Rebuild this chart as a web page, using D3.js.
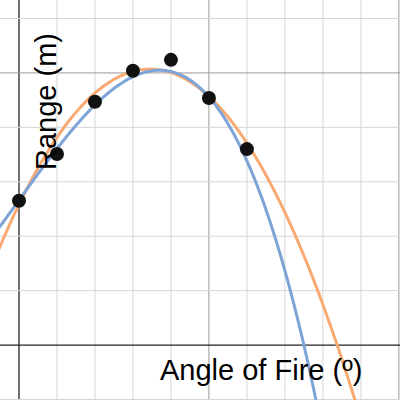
<!DOCTYPE html>
<html>
<head>
<meta charset="UTF-8">
<script src="https://d3js.org/d3.v7.min.js"></script>
<style>
  body{margin:0;background:#fff;}
  text{font-family:"Liberation Sans",Arial,sans-serif;fill:#000;}
</style>
</head>
<body>
<svg id="chart" width="400" height="400"></svg>
<script>
  // measured points (grid units)
  const angles = [0, 1, 2, 3, 4, 5, 6];
  const ranges = [2.65, 3.51, 4.47, 5.04, 5.24, 4.54, 3.6];
  // fitted curves
  const cubicFit = {h: 3.7, k: 5.05, a: -0.261, c: -0.0234}; // blue
  const quadFit = {a: -0.209, h: 3.45, k: 5.07};              // orange

  const width = 400, height = 400;
  const x = d3.scaleLinear().domain([-0.5, 10.03]).range([0, width]);
  const y = d3.scaleLinear().domain([-1.01, 6.34]).range([height, 0]);
  const svg = d3.select("#chart");

  // grid
  const xs = d3.range(0, 11), ys = d3.range(-1, 7);
  svg.append("g").selectAll("line").data(xs).enter().append("line")
    .attr("x1", d => x(d)).attr("x2", d => x(d)).attr("y1", 0).attr("y2", height)
    .attr("stroke", d => d === 0 ? "#222" : d % 5 === 0 ? "#999" : "#d6d6d6")
    .attr("stroke-width", d => d === 0 ? 1.3 : 1);
  svg.append("g").selectAll("line").data(ys).enter().append("line")
    .attr("y1", d => y(d)).attr("y2", d => y(d)).attr("x1", 0).attr("x2", width)
    .attr("stroke", d => d === 0 ? "#222" : d % 5 === 0 ? "#999" : "#d6d6d6")
    .attr("stroke-width", d => d === 0 ? 1.3 : 1);

  const samples = d3.range(-0.6, 10.1, 0.02);
  const line = d3.line().x(d => x(d[0])).y(d => y(d[1]));
  const cubic = t => { const u = t - cubicFit.h; return cubicFit.k + cubicFit.a * u * u + cubicFit.c * u * u * u; };
  const quad = t => quadFit.a * (t - quadFit.h) ** 2 + quadFit.k;

  svg.append("path").datum(samples.map(t => [t, quad(t)]))
    .attr("d", line).attr("fill", "none").attr("stroke", "#f8aa72").attr("stroke-width", 3);
  svg.append("path").datum(samples.map(t => [t, cubic(t)]))
    .attr("d", line).attr("fill", "none").attr("stroke", "#7da4d6").attr("stroke-width", 3);

  svg.append("g").selectAll("circle").data(angles).enter().append("circle")
    .attr("cx", d => x(d)).attr("cy", (d, i) => y(ranges[i])).attr("r", 7).attr("fill", "#111");

  svg.append("text").attr("x", 160).attr("y", 380).attr("font-size", 29).text("Angle of Fire (º)");
  svg.append("text").attr("transform", "translate(56,170) rotate(-90)")
    .attr("font-size", 29).text("Range (m)");
</script>
</body>
</html>
